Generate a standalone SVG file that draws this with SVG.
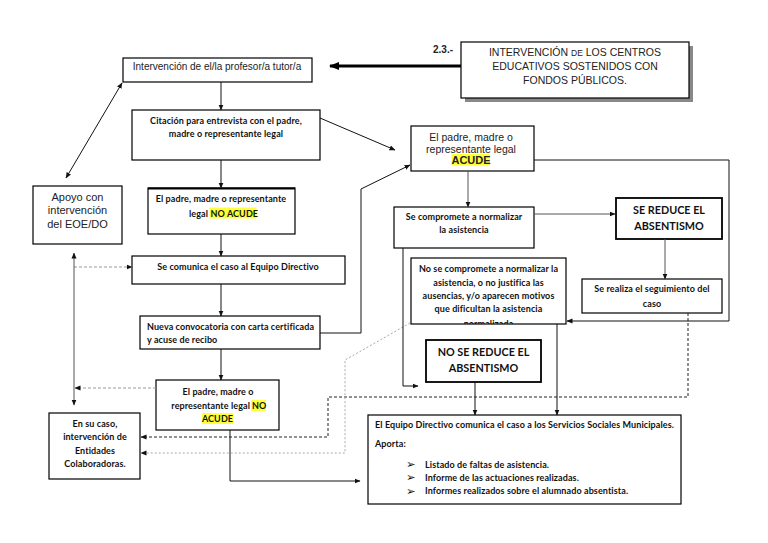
<svg xmlns="http://www.w3.org/2000/svg" width="768" height="543" viewBox="0 0 768 543">
<style>
.bx{fill:#fff;stroke:#000;stroke-width:1.2}
.bx2{fill:#fff;stroke:#000;stroke-width:1.8}
.a{font-family:"Liberation Sans",Arial,sans-serif;fill:#222}
.c{font-family:Lato,"Open Sans",sans-serif;font-weight:bold;fill:#111;font-size:9px;letter-spacing:0.1px}
.k{font-family:Lato,"Open Sans",sans-serif;font-weight:bold;fill:#111;font-size:10.8px}
.m{text-anchor:middle}
.bu{font-family:"DejaVu Sans",sans-serif;font-size:11.5px;font-weight:bold;fill:#111}
.ln{fill:none;stroke:#111;stroke-width:1}
.lg{fill:none;stroke:#555;stroke-width:1}
.dd{fill:none;stroke:#222;stroke-width:1;stroke-dasharray:3,2}
.dg{fill:none;stroke:#999;stroke-width:1;stroke-dasharray:3,2}
.dl{fill:none;stroke:#aaa;stroke-width:1;stroke-dasharray:2,2}
.hl{fill:#ffff3a}
</style>
<defs>
<marker id="ar" markerWidth="6" markerHeight="6" refX="5.5" refY="3" orient="auto-start-reverse" markerUnits="userSpaceOnUse">
<path d="M0,0.5 L6,3 L0,5.5 Z" fill="#111"/>
</marker>
<marker id="big" markerWidth="10" markerHeight="10" refX="9" refY="5" orient="auto" markerUnits="userSpaceOnUse">
<path d="M0,1 L10,5 L0,9 Z" fill="#000"/>
</marker>
<clipPath id="clipNo"><rect x="411" y="258" width="155" height="66"/></clipPath>
</defs>

<g id="nodes">
<g id="header">
<text class="a" x="433" y="53" font-size="10" font-weight="bold">2.3.-</text>
<rect x="465" y="46" width="228" height="56" fill="#888"/>
<rect x="461" y="42" width="228" height="56" class="bx"/>
<text class="a m" x="575" y="56" font-size="10.5">INTERVENCIÓN <tspan font-size="8.5">DE</tspan> LOS CENTROS</text>
<text class="a m" x="575" y="70" font-size="10.5">EDUCATIVOS SOSTENIDOS CON</text>
<text class="a m" x="575" y="84" font-size="10.5">FONDOS PÚBLICOS.</text>
</g>
<g id="n-tutor">
<rect x="123" y="58" width="189" height="24" class="bx"/>
<text class="a m" x="217" y="70" font-size="10">Intervención de el/la profesor/a tutor/a</text>
</g>
<g id="n-citacion">
<rect x="132" y="110" width="188" height="50" class="bx"/>
<text class="c m" x="226" y="124">Citación para entrevista con el padre,</text>
<text class="c m" x="226" y="137">madre o representante legal</text>
</g>
<g id="n-noacude1">
<rect x="148" y="188" width="147" height="46" class="bx"/>
<line x1="148" y1="188.5" x2="295" y2="188.5" stroke="#000" stroke-width="2"/>
<text class="c m" x="221" y="202">El padre, madre o representante</text>
<rect x="209.5" y="207.5" width="47" height="11" class="hl"/>
<text class="c" x="208" y="216.5" text-anchor="end">legal</text>
<text class="c" x="210.5" y="216.5">NO ACUDE</text>
</g>
<g id="n-apoyo">
<rect x="33" y="186" width="89" height="58" class="bx"/>
<text class="a m" x="77.5" y="200.5" font-size="11">Apoyo con</text>
<text class="a m" x="77.5" y="214" font-size="11">intervención</text>
<text class="a m" x="77.5" y="227.5" font-size="11">del EOE/DO</text>
</g>
<g id="n-comunica">
<rect x="132" y="256" width="213" height="28" class="bx"/>
<text class="c m" x="238" y="269.5">Se comunica el caso al Equipo Directivo</text>
</g>
<g id="n-nueva">
<rect x="140" y="316" width="180" height="33" class="bx"/>
<text class="c" x="147" y="329.5">Nueva convocatoria con carta certificada</text>
<text class="c" x="147" y="342.5">y acuse de recibo</text>
</g>
<g id="n-noacude2">
<rect x="156" y="380" width="123" height="50" class="bx"/>
<text class="c m" x="218" y="395">El padre, madre o</text>
<rect x="251" y="400" width="15" height="11" class="hl"/>
<text class="c" x="250" y="408.5" text-anchor="end">representante legal</text>
<text class="c" x="252" y="408.5">NO</text>
<rect x="202" y="413" width="31" height="11" class="hl"/>
<text class="c m" x="217.5" y="421.5">ACUDE</text>
</g>
<g id="n-entidades">
<rect x="49" y="413" width="91" height="66" class="bx"/>
<text class="c m" x="95" y="427">En su caso,</text>
<text class="c m" x="95" y="440">intervención de</text>
<text class="c m" x="95" y="453.5">Entidades</text>
<text class="c m" x="95" y="466.5">Colaboradoras.</text>
</g>
<g id="n-acude">
<rect x="411" y="126" width="123" height="45" class="bx"/>
<text class="a m" x="471" y="140.5" font-size="10.5">El padre, madre o</text>
<text class="a m" x="471" y="152.5" font-size="10.5">representante legal</text>
<rect x="451.5" y="154" width="38.5" height="11.5" class="hl"/>
<text class="a m" x="471" y="164" font-size="11" font-weight="bold" fill="#000">ACUDE</text>
</g>
<g id="n-compromete">
<rect x="394" y="207" width="140" height="41" class="bx"/>
<text class="c m" x="464" y="220">Se compromete a normalizar</text>
<text class="c m" x="464" y="233">la asistencia</text>
</g>
<g id="n-sereduce">
<rect x="616" y="198" width="106" height="41" class="bx2"/>
<text class="k m" x="669" y="213.5">SE REDUCE EL</text>
<text class="k m" x="669" y="229.5">ABSENTISMO</text>
</g>
<g id="n-seguimiento">
<rect x="582" y="279" width="140" height="34" class="bx"/>
<text class="c m" x="652" y="292">Se realiza el seguimiento del</text>
<text class="c m" x="652" y="306.5">caso</text>
</g>
<g id="n-nocompromete">
<rect x="411" y="258" width="155" height="66" class="bx"/>
<g clip-path="url(#clipNo)">
<text class="c m" x="488.5" y="271.5">No se compromete a normalizar la</text>
<text class="c m" x="488.5" y="285.5">asistencia, o no justifica las</text>
<text class="c m" x="488.5" y="298.5">ausencias, y/o aparecen motivos</text>
<text class="c m" x="488.5" y="311.5">que dificultan la asistencia</text>
<text class="c m" x="488.5" y="327">normalizada</text>
</g>
</g>
<g id="n-noreduce">
<rect x="426" y="340" width="115" height="42" class="bx2"/>
<text class="k m" x="483.5" y="356">NO SE REDUCE EL</text>
<text class="k m" x="483.5" y="372">ABSENTISMO</text>
</g>
<g id="n-servicios">
<rect x="368" y="415" width="313" height="89" class="bx"/>
<text class="c" x="375" y="428">El Equipo Directivo comunica el caso a los Servicios Sociales Municipales.</text>
<text class="c" x="375" y="447">Aporta:</text>
<text class="bu" x="406" y="468">➢</text>
<text class="bu" x="406" y="481">➢</text>
<text class="bu" x="406" y="494.5">➢</text>
<text class="c" x="425" y="467.5">Listado de faltas de asistencia.</text>
<text class="c" x="425" y="480.5">Informe de las actuaciones realizadas.</text>
<text class="c" x="425" y="494">Informes realizados sobre el alumnado absentista.</text>
</g>
</g>

<g id="connectors">
<line x1="461" y1="66" x2="330" y2="66" stroke="#000" stroke-width="3" marker-end="url(#big)"/>
<line x1="221" y1="82" x2="221" y2="110" class="ln" marker-end="url(#ar)"/>
<line x1="320" y1="118" x2="395" y2="150" class="ln" marker-end="url(#ar)"/>
<line x1="221" y1="160" x2="221" y2="188" class="ln" marker-end="url(#ar)"/>
<line x1="122" y1="83" x2="66" y2="178" class="ln" marker-start="url(#ar)" marker-end="url(#ar)"/>
<line x1="221" y1="234" x2="221" y2="256" class="ln" marker-end="url(#ar)"/>
<line x1="74" y1="267" x2="132" y2="267" class="dg" marker-end="url(#ar)"/>
<line x1="74" y1="253" x2="74" y2="405" class="lg" marker-start="url(#ar)" marker-end="url(#ar)"/>
<line x1="221" y1="284" x2="221" y2="316" class="ln" marker-end="url(#ar)"/>
<line x1="221" y1="349" x2="221" y2="380" class="ln" marker-end="url(#ar)"/>
<polyline points="320,333 361,333 361,189 410,165" class="ln" marker-end="url(#ar)"/>
<line x1="156" y1="388" x2="75" y2="388" class="dg" marker-end="url(#ar)"/>
<polyline points="230,430 230,481 360,481" class="ln" marker-end="url(#ar)"/>
<polyline points="688,313 688,397 328,397 328,437 141,437" class="dd" marker-end="url(#ar)"/>
<polyline points="410,323 345,360 345,453 141,453" class="dl" marker-end="url(#ar)"/>
<line x1="468" y1="171" x2="468" y2="207" class="lg" marker-end="url(#ar)"/>
<line x1="534" y1="214" x2="615" y2="214" class="lg" marker-end="url(#ar)"/>
<line x1="665" y1="239" x2="665" y2="279" class="lg" marker-end="url(#ar)"/>
<polyline points="534,160 729,160 729,321 567,321" class="ln" marker-end="url(#ar)"/>
<polyline points="403,248 403,386 418,386" class="ln" marker-end="url(#ar)"/>
<line x1="475" y1="382" x2="475" y2="415" class="ln" marker-end="url(#ar)"/>
<line x1="557" y1="324" x2="557" y2="415" class="ln" marker-end="url(#ar)"/>
</g>
</svg>
